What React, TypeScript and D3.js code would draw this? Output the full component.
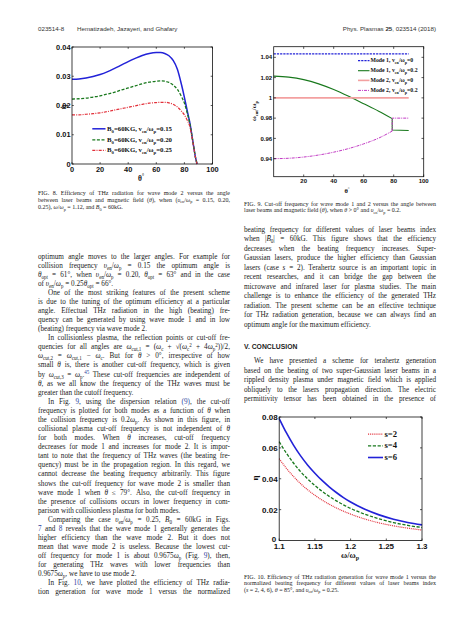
import { useEffect, useLayoutEffect, useRef } from "react";
import * as d3 from "d3";

const SERIF = '"Liberation Serif", "Times New Roman", serif';
const SANS = '"Liberation Sans", Arial, sans-serif';
const INK = "#222";
const LINK = "#2b3f9e";
const BODY = 7.2;

// ---------- Fig. 8 data ----------
const fig8Theta = [0, 5, 10, 15, 20, 25, 30, 35, 40, 45, 50, 55, 60, 63, 66, 69, 72, 75, 78, 80, 82, 84, 86, 88, 89];
const fig8Eta015 = [0.029, 0.0291, 0.0294, 0.0299, 0.0306, 0.0315, 0.0326, 0.0338, 0.035, 0.0361, 0.0371, 0.0378, 0.0381, 0.0381, 0.0378, 0.037, 0.0354, 0.0324, 0.027, 0.0228, 0.0182, 0.0138, 0.0078, 0.002, 0];
const fig8Eta020 = [0.0222, 0.0223, 0.0225, 0.0229, 0.0233, 0.0239, 0.0245, 0.0253, 0.026, 0.0267, 0.0274, 0.028, 0.0283, 0.0284, 0.0283, 0.0279, 0.027, 0.0255, 0.023, 0.0208, 0.0175, 0.0135, 0.0078, 0.002, 0];
const fig8Eta025 = [0.0168, 0.0168, 0.017, 0.0172, 0.0175, 0.0179, 0.0184, 0.0189, 0.0194, 0.0199, 0.0204, 0.0208, 0.021, 0.0211, 0.0211, 0.0209, 0.0204, 0.0195, 0.018, 0.0168, 0.015, 0.0125, 0.0075, 0.002, 0];
const fig8XTicks = [0, 20, 40, 60, 80, 100];
const fig8YTicks = [0, 0.01, 0.02, 0.03, 0.04];
const fig8Labels = [
  "B_{0}=60KG, v_{en}/ω_{p}=0.15",
  "B_{0}=60KG, v_{en}/ω_{p}=0.20",
  "B_{0}=60KG, v_{en}/ω_{p}=0.25",
];

// ---------- Fig. 9 data ----------
const fig9Flat = [0, 90];
const fig9Mode1Free = [1.0435, 1.0435];
const fig9Mode2Free = [1.0, 1.0];
const fig9Theta = [0, 10, 20, 30, 40, 50, 60, 70, 79];
const fig9Mode1Coll = [1.0215, 1.0205, 1.018, 1.0138, 1.0082, 1.0015, 0.9942, 0.9868, 0.9795];
const fig9Mode2Coll = [0.94, 0.9404, 0.9416, 0.9436, 0.9464, 0.95, 0.9546, 0.9603, 0.9672];
const fig9TailTheta = [79, 79, 90];
const fig9Mode1Tail = [0.9795, 0.9683, 0.9678];
const fig9Mode2Tail = [0.9672, 0.98, 0.98];
const fig9XTicks = [20, 40, 60, 80, 100];
const fig9YTicks = [0.94, 0.96, 0.98, 1.0, 1.02, 1.04];
const fig9Labels = [
  "Mode 1, v_{en}/ω_{p}=0",
  "Mode 1, v_{en}/ω_{p}=0.2",
  "Mode 2, v_{en}/ω_{p}=0",
  "Mode 2, v_{en}/ω_{p}=0.2",
];

// ---------- Fig. 10 data ----------
const fig10Freq = [1.1, 1.11, 1.12, 1.13, 1.14, 1.15, 1.16, 1.17, 1.18, 1.19, 1.2, 1.22, 1.24, 1.26, 1.28, 1.3];
const fig10S2 = [0.053, 0.0468, 0.0415, 0.0368, 0.0328, 0.0293, 0.0262, 0.0235, 0.0211, 0.019, 0.0171, 0.0139, 0.0114, 0.0095, 0.008, 0.0068];
const fig10S4 = [0.064, 0.0566, 0.0502, 0.0446, 0.0398, 0.0356, 0.0319, 0.0286, 0.0257, 0.0231, 0.0208, 0.017, 0.014, 0.0116, 0.0098, 0.0084];
const fig10S6 = [0.079, 0.0698, 0.0618, 0.0548, 0.0488, 0.0436, 0.0389, 0.0348, 0.0311, 0.0278, 0.0249, 0.0202, 0.0166, 0.0138, 0.0117, 0.0101];
const fig10XTicks = [1.1, 1.15, 1.2, 1.25, 1.3];
const fig10YTicks = [0, 0.02, 0.04, 0.06, 0.08];
const fig10Labels = ["s=2", "s=4", "s=6"];

// ---------- page text ----------
// "¶" = indented first line, "|" at end = last line of paragraph (not justified)
const leftText = [
  "optimum angle moves to the larger angles. For example for",
  "collision frequency *υ*_{en}/*ω*_{p} = 0.15 the optimum angle is",
  "*θ*_{opt} = 61°, when *υ*_{en}/*ω*_{p} = 0.20, *θ*_{opt} = 63° and in the case",
  "of *υ*_{en}/*ω*_{p} = 0.25*θ*_{opt} = 66°.|",
  "¶One of the most striking features of the present scheme",
  "is due to the tuning of the optimum efficiency at a particular",
  "angle. Effectual THz radiation in the high (beating) fre-",
  "quency can be generated by using wave mode 1 and in low",
  "(beating) frequency via wave mode 2.|",
  "¶In collisionless plasma, the reflection points or cut-off fre-",
  "quencies for all angles are *ω*_{cut,1} = (*ω*_{c} + √(*ω*_{c}^{2} + 4*ω*_{p}^{2}))/2,",
  "*ω*_{cut,2} = *ω*_{cut,1} − *ω*_{c}. But for *θ* > 0°, irrespective of how",
  "small *θ* is, there is another cut-off frequency, which is given",
  "by *ω*_{cut,3} = *ω*_{p}.^{[45]} These cut-off frequencies are independent of",
  "*θ*, as we all know the frequency of the THz waves must be",
  "greater than the cutoff frequency.|",
  "¶In Fig. [9], using the dispersion relation [(9)], the cut-off",
  "frequency is plotted for both modes as a function of *θ* when",
  "the collision frequency is 0.2*ω*_{p}. As shown in this figure, in",
  "collisional plasma cut-off frequency is not independent of *θ*",
  "for both modes. When *θ* increases, cut-off frequency",
  "decreases for mode 1 and increases for mode 2. It is impor-",
  "tant to note that the frequency of THz waves (the beating fre-",
  "quency) must be in the propagation region. In this regard, we",
  "cannot decrease the beating frequency arbitrarily. This figure",
  "shows the cut-off frequency for wave mode 2 is smaller than",
  "wave mode 1 when *θ* ≤ 79°. Also, the cut-off frequency in",
  "the presence of collisions occurs in lower frequency in com-",
  "parison with collisionless plasma for both modes.|",
  "¶Comparing the case *υ*_{en}/*ω*_{p} = 0.25, *B*_{0} = 60kG in Figs.",
  "[7] and [8] reveals that the wave mode 1 generally generates the",
  "higher efficiency than the wave mode 2. But it does not",
  "mean that wave mode 2 is useless. Because the lowest cut-",
  "off frequency for mode 1 is about 0.9675*ω*_{p} (Fig. [9]), then,",
  "for generating THz waves with lower frequencies than",
  "0.9675*ω*_{p}, we have to use mode 2.|",
  "¶In Fig. [10], we have plotted the efficiency of THz radia-",
  "tion generation for wave mode 1 versus the normalized",
];

const rightText = [
  "beating frequency for different values of laser beams index",
  "when |*B̄*_{0}| = 60kG. This figure shows that the efficiency",
  "decreases when the beating frequency increases. Super-",
  "Gaussian lasers, produce the higher efficiency than Gaussian",
  "lasers (case *s* = 2). Terahertz source is an important topic in",
  "recent researches, and it can bridge the gap between the",
  "microwave and infrared laser for plasma studies. The main",
  "challenge is to enhance the efficiency of the generated THz",
  "radiation. The present scheme can be an effective technique",
  "for THz radiation generation, because we can always find an",
  "optimum angle for the maximum efficiency.|",
];

const conclusionText = [
  "¶We have presented a scheme for terahertz generation",
  "based on the beating of two super-Gaussian laser beams in a",
  "rippled density plasma under magnetic field which is applied",
  "obliquely to the lasers propagation direction. The electric",
  "permittivity tensor has been obtained in the presence of",
];

const fig8Caption = [
  "FIG. 8. Efficiency of THz radiation for wave mode 2 versus the angle",
  "between laser beams and magnetic field (*θ*), when (*υ*_{en}/*ω*_{p} = 0.15, 0.20,",
  "0.25), *ω*/*ω*_{p} = 1.12, and *B*_{0} = 60kG.|",
];
const fig9Caption = [
  "FIG. 9. Cut-off frequency for wave mode 1 and 2 versus the angle between",
  "laser beams and magnetic field (*θ*), when *θ* > 0° and *υ*_{en}/*ω*_{p} = 0.2.|",
];
const fig10Caption = [
  "FIG. 10. Efficiency of THz radiation generation for wave mode 1 versus the",
  "normalized beating frequency for different values of laser beams index",
  "(*s* = 2, 4, 6), *θ* = 85°, and *υ*_{en}/*ω*_{p} = 0.25.|",
];

// ---------- rich text: *italic*, [link], _{sub}, ^{sup} ----------
type Seg = { t: string; it: boolean; link: boolean; shift: number };

function parse(s: string): Seg[] {
  const segs: Seg[] = [];
  let it = false, link = false, shift = 0, buf = "";
  const flush = () => {
    if (buf) segs.push({ t: buf, it, link, shift });
    buf = "";
  };
  for (let i = 0; i < s.length; i++) {
    const c = s[i];
    if (c === "*") { flush(); it = !it; continue; }
    if (c === "[") { flush(); link = true; continue; }
    if (c === "]") { flush(); link = false; continue; }
    if ((c === "_" || c === "^") && s[i + 1] === "{") { flush(); shift = c === "_" ? 1 : -1; i++; continue; }
    if (c === "}" && shift !== 0) { flush(); shift = 0; continue; }
    buf += c;
  }
  flush();
  return segs;
}

interface RichProps {
  x: number;
  y: number;
  s: string;
  size: number;
  family?: string;
  weight?: string | number;
  fill?: string;
  width?: number;
  anchor?: "start" | "middle" | "end";
  transform?: string;
}

function Rich({ x, y, s, size, family = SERIF, weight, fill = INK, width, anchor, transform }: RichProps) {
  const ref = useRef<SVGTextElement>(null);
  const segs = parse(s);
  const plain = segs.map((g) => g.t).join("");

  // justify by word spacing, fall back to textLength
  useLayoutEffect(() => {
    const el = ref.current;
    if (!el || !width) return;
    el.removeAttribute("textLength");
    el.style.wordSpacing = "0px";
    const natural = el.getComputedTextLength();
    const gaps = (plain.match(/ /g) || []).length;
    if (gaps > 0) {
      el.style.wordSpacing = `${(width - natural) / gaps}px`;
      const after = el.getComputedTextLength();
      if (Math.abs(after - width) < 1) return;
      el.style.wordSpacing = "0px";
    }
    el.setAttribute("textLength", String(width));
    el.setAttribute("lengthAdjust", "spacing");
  }, [s, width, size]);

  let cur = 0;
  const spans = segs.map((g, i) => {
    const target = g.shift === 1 ? size * 0.28 : g.shift === -1 ? -size * 0.36 : 0;
    const dy = target - cur;
    cur = target;
    return (
      <tspan
        key={i}
        dy={dy !== 0 ? dy : undefined}
        fontSize={g.shift ? size * 0.7 : undefined}
        fontStyle={g.it ? "italic" : undefined}
        fill={g.link ? LINK : undefined}
      >
        {g.t}
      </tspan>
    );
  });

  return (
    <text
      ref={ref}
      x={x}
      y={y}
      fontSize={size}
      fontFamily={family}
      fontWeight={weight}
      fill={fill}
      textAnchor={anchor}
      transform={transform}
      style={{ whiteSpace: "pre" }}
    >
      {spans}
    </text>
  );
}

function Column({ lines, x, y, step, size, width, indent = 10 }: { lines: string[]; x: number; y: number; step: number; size: number; width: number; indent?: number }) {
  return (
    <g>
      {lines.map((raw, i) => {
        let s = raw;
        let dx = 0;
        let justify = true;
        if (s.startsWith("¶")) { s = s.slice(1); dx = indent; }
        if (s.endsWith("|")) { s = s.slice(0, -1); justify = false; }
        return <Rich key={i} x={x + dx} y={y + i * step} s={s} size={size} width={justify ? width - dx : undefined} />;
      })}
    </g>
  );
}

// ---------- plot ----------
interface Series {
  x: number[];
  y: number[];
  color: string;
  width: number;
  dash?: string;
  smooth?: boolean;
}

interface PlotProps {
  box: { x0: number; x1: number; y0: number; y1: number };
  xDomain: [number, number];
  yDomain: [number, number];
  xTicks: number[];
  yTicks: number[];
  xFmt: (d: number) => string;
  yFmt: (d: number) => string;
  tickSize: number;
  tickLen: number;
  zeroShift?: number;
  series: Series[];
  legend: { x0: number; x1: number; tx: number; rows: number[]; size: number; labels: string[]; order: number[] };
}

function Plot({ box, xDomain, yDomain, xTicks, yTicks, xFmt, yFmt, tickSize, tickLen, zeroShift = 0, series, legend }: PlotProps) {
  const gRef = useRef<SVGGElement>(null);

  useEffect(() => {
    if (!gRef.current) return;
    const g = d3.select(gRef.current);
    g.selectAll("*").remove();

    const x = d3.scaleLinear().domain(xDomain).range([box.x0, box.x1]);
    const y = d3.scaleLinear().domain(yDomain).range([box.y1, box.y0]);

    series.forEach((s) => {
      const line = d3
        .line<number>()
        .x((_, i) => x(s.x[i]))
        .y((d) => y(d))
        .curve(s.smooth ? d3.curveMonotoneX : d3.curveLinear);
      g.append("path")
        .attr("d", line(s.y))
        .attr("fill", "none")
        .attr("stroke", s.color)
        .attr("stroke-width", s.width)
        .attr("stroke-dasharray", s.dash ?? null);
    });

    // frame
    g.append("rect")
      .attr("x", box.x0)
      .attr("y", box.y0)
      .attr("width", box.x1 - box.x0)
      .attr("height", box.y1 - box.y0)
      .attr("fill", "none")
      .attr("stroke", "#111")
      .attr("stroke-width", 0.8);

    // ticks inside on all four sides
    xTicks.forEach((t) => {
      g.append("line").attr("x1", x(t)).attr("x2", x(t)).attr("y1", box.y1).attr("y2", box.y1 - tickLen).attr("stroke", "#111").attr("stroke-width", 0.7);
      g.append("line").attr("x1", x(t)).attr("x2", x(t)).attr("y1", box.y0).attr("y2", box.y0 + tickLen).attr("stroke", "#111").attr("stroke-width", 0.7);
    });
    yTicks.forEach((t) => {
      g.append("line").attr("x1", box.x0).attr("x2", box.x0 + tickLen).attr("y1", y(t)).attr("y2", y(t)).attr("stroke", "#111").attr("stroke-width", 0.7);
      g.append("line").attr("x1", box.x1).attr("x2", box.x1 - tickLen).attr("y1", y(t)).attr("y2", y(t)).attr("stroke", "#111").attr("stroke-width", 0.7);
    });

    g.selectAll(".xt")
      .data(xTicks)
      .join("text")
      .attr("class", "xt")
      .attr("x", (d) => x(d))
      .attr("y", box.y1 + tickSize * 1.12)
      .attr("text-anchor", "middle")
      .attr("font-family", SANS)
      .attr("font-weight", "bold")
      .attr("font-size", tickSize)
      .attr("fill", "#111")
      .text((d) => xFmt(d));

    g.selectAll(".yt")
      .data(yTicks)
      .join("text")
      .attr("class", "yt")
      .attr("x", (d) => box.x0 - 1.5 - (d === 0 ? zeroShift : 0))
      .attr("y", (d) => y(d) - (d === 0 ? zeroShift : 0))
      .attr("dy", "0.36em")
      .attr("text-anchor", "end")
      .attr("font-family", SANS)
      .attr("font-weight", "bold")
      .attr("font-size", tickSize)
      .attr("fill", "#111")
      .text((d) => yFmt(d));

    // legend samples
    legend.order.forEach((si, r) => {
      const s = series[si];
      g.append("line")
        .attr("x1", legend.x0)
        .attr("x2", legend.x1)
        .attr("y1", legend.rows[r])
        .attr("y2", legend.rows[r])
        .attr("stroke", s.color)
        .attr("stroke-width", s.width)
        .attr("stroke-dasharray", s.dash ?? null);
    });
  }, []);

  return (
    <g>
      <g ref={gRef} />
      {legend.labels.map((l, r) => (
        <Rich key={r} x={legend.tx} y={legend.rows[r] + legend.size * 0.3} s={l} size={legend.size} weight="bold" fill="#111" />
      ))}
    </g>
  );
}

const BLUE = "#2222d8";
const GREEN = "#18781c";
const RED = "#e2303a";
const MAGENTA = "#c23ac4";
const SALMON = "#f3a0a0";

const fmt2 = (d: number) => (d === 0 ? "0" : d.toFixed(2));

export default function App() {
  return (
    <svg width={474} height={632} style={{ position: "absolute", left: 0, top: 0, background: "#fff" }}>
      {/* running heads */}
      <text x={38} y={31} fontFamily={SANS} fontSize={6.2} fill="#333">023514-8</text>
      <text x={77} y={31} fontFamily={SANS} fontSize={6.2} fill="#333">Hematizadeh, Jazayeri, and Ghafary</text>
      <text x={436} y={31} fontFamily={SANS} fontSize={6.2} fill="#333" textAnchor="end">
        Phys. Plasmas <tspan fontWeight="bold">25</tspan>, 023514 (2018)
      </text>

      {/* Fig. 8 */}
      <Plot
        box={{ x0: 72, x1: 212.5, y0: 47, y1: 164 }}
        xDomain={[0, 100]}
        yDomain={[0, 0.04]}
        xTicks={fig8XTicks}
        yTicks={fig8YTicks}
        xFmt={(d) => String(d)}
        yFmt={fmt2}
        tickSize={7.4}
        tickLen={1.8}
        series={[
          { x: fig8Theta, y: fig8Eta015, color: BLUE, width: 1.5, smooth: true },
          { x: fig8Theta, y: fig8Eta020, color: GREEN, width: 1.3, dash: "3,1.6", smooth: true },
          { x: fig8Theta, y: fig8Eta025, color: RED, width: 1.2, dash: "3,1.2,1,1.2", smooth: true },
        ]}
        legend={{ x0: 92.3, x1: 105.5, tx: 107, rows: [128.8, 139.8, 150.3], size: 6.8, labels: fig8Labels, order: [0, 1, 2] }}
      />
      <Rich x={141} y={181} s="θ^{°}" size={7.5} weight="bold" anchor="middle" fill="#111" />
      <Rich x={0} y={0} s="η" size={8} weight="bold" anchor="middle" fill="#111" transform="translate(65.5,107) rotate(-90)" />
      <Column lines={fig8Caption} x={38} y={194.5} step={7.2} size={6} width={192} />

      {/* Fig. 9 */}
      <Plot
        box={{ x0: 273.7, x1: 423.7, y0: 46.7, y1: 176.7 }}
        xDomain={[0, 100]}
        yDomain={[0.9222, 1.0505]}
        xTicks={fig9XTicks}
        yTicks={fig9YTicks}
        xFmt={(d) => String(d)}
        yFmt={(d) => (d === 1 ? "1" : d.toFixed(2))}
        tickSize={6}
        tickLen={2.2}
        series={[
          { x: fig9Flat, y: fig9Mode1Free, color: BLUE, width: 1.2, dash: "2.2,1" },
          { x: fig9Theta, y: fig9Mode1Coll, color: GREEN, width: 1.1, smooth: true },
          { x: fig9Flat, y: fig9Mode2Free, color: SALMON, width: 1.6 },
          { x: fig9Theta, y: fig9Mode2Coll, color: MAGENTA, width: 1, dash: "3,1,1,1", smooth: true },
          { x: fig9TailTheta, y: fig9Mode1Tail, color: GREEN, width: 1.1 },
          { x: fig9TailTheta, y: fig9Mode2Tail, color: MAGENTA, width: 1, dash: "3,1,1,1" },
        ]}
        legend={{ x0: 358, x1: 369.5, tx: 370.5, rows: [60.7, 70.7, 80.4, 90.4], size: 5.8, labels: fig9Labels, order: [0, 1, 2, 3] }}
      />
      <Rich x={347} y={192.5} s="θ^{°}" size={6.5} weight="bold" anchor="middle" fill="#111" />
      <Rich x={0} y={0} s="ω_{cut}/ω_{p}" size={6.5} weight="bold" anchor="middle" fill="#111" transform="translate(256,111) rotate(-90)" />
      <Column lines={fig9Caption} x={244} y={205.5} step={6.6} size={6} width={192} />

      {/* right column text */}
      <Column lines={rightText} x={244} y={231.5} step={9.53} size={BODY} width={192} />
      <text x={244} y={348.6} fontFamily={SANS} fontWeight="bold" fontSize={6.8} fill="#222">V. CONCLUSION</text>
      <Column lines={conclusionText} x={244} y={363.2} step={9.5} size={BODY} width={192} />

      {/* Fig. 10 */}
      <Plot
        box={{ x0: 279.2, x1: 422, y0: 417, y1: 540.5 }}
        xDomain={[1.1, 1.3]}
        yDomain={[0, 0.08]}
        xTicks={fig10XTicks}
        yTicks={fig10YTicks}
        xFmt={(d) => String(+d.toFixed(2))}
        yFmt={fmt2}
        tickSize={8}
        tickLen={2}
        zeroShift={1.5}
        series={[
          { x: fig10Freq, y: fig10S2, color: RED, width: 1.2, dash: "1,0.9", smooth: true },
          { x: fig10Freq, y: fig10S4, color: GREEN, width: 1.3, dash: "3.2,1.6", smooth: true },
          { x: fig10Freq, y: fig10S6, color: BLUE, width: 1.6, smooth: true },
        ]}
        legend={{ x0: 368, x1: 383, tx: 384.5, rows: [434.2, 445.9, 457.5], size: 8.6, labels: fig10Labels, order: [0, 1, 2] }}
      />
      <Rich x={350} y={558} s="ω/ω_{p}" size={8.5} weight="bold" anchor="middle" fill="#111" />
      <Rich x={0} y={0} s="η" size={9} weight="bold" anchor="middle" fill="#111" transform="translate(258,478) rotate(-90)" />
      <Column lines={fig10Caption} x={244} y={578.5} step={6.6} size={6} width={192} />

      {/* left column text */}
      <Column lines={leftText} x={38} y={258.5} step={9.08} size={BODY} width={192} />
    </svg>
  );
}
